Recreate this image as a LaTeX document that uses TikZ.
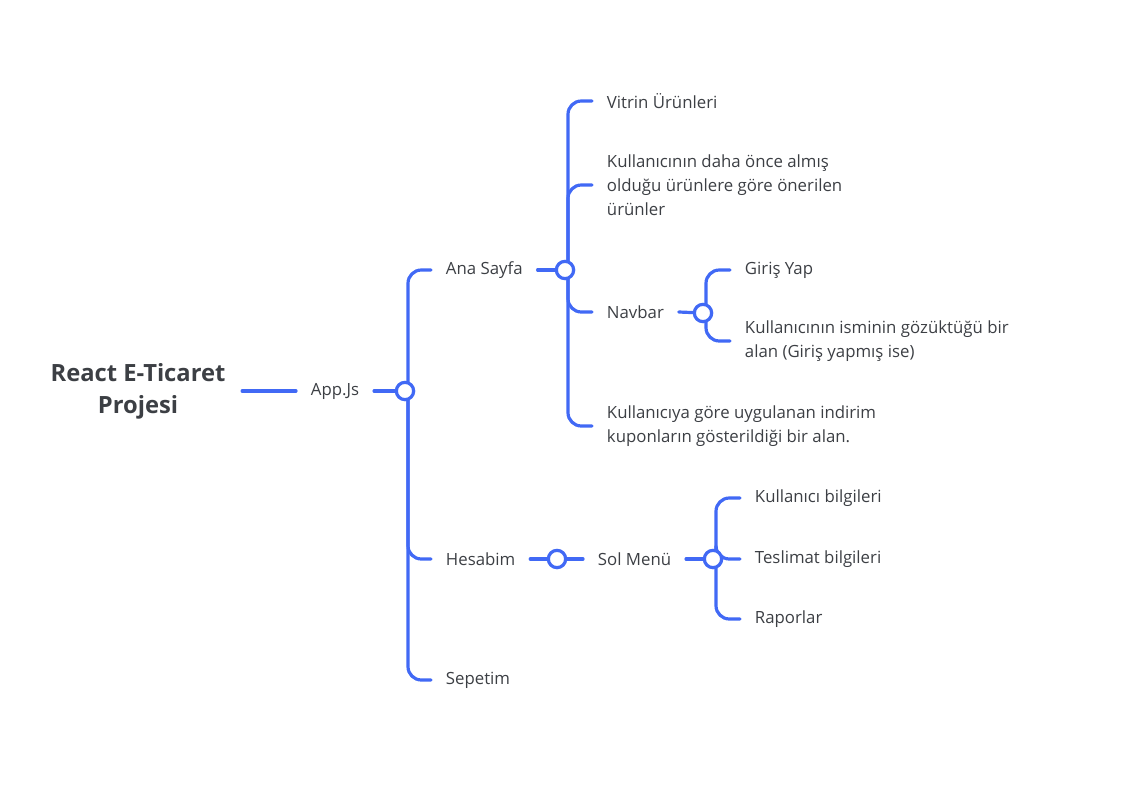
\documentclass[tikz,border=0pt]{standalone}
\usepackage{fontspec}
\setmainfont{Open Sans}
\definecolor{ln}{HTML}{4169F5}
\definecolor{tx}{HTML}{3C3F44}
\begin{document}
\begin{tikzpicture}[x=0.75pt,y=-0.75pt,
  lnk/.style={draw=ln,line width=2.4pt,rounded corners=10pt,line cap=round},
  txt/.style={anchor=west,inner xsep=11pt,inner ysep=0pt,text=tx,font=\fontsize{12.6}{18}\selectfont,align=left},
  dot/.style={circle,draw=ln,fill=white,line width=2.4pt,minimum size=13pt,inner sep=0pt}]
\useasboundingbox (0,0) rectangle (1122,810);
\node[text=tx,font=\bfseries\fontsize{17.8}{24}\selectfont,align=center] (root) at (138,391) {React E-Ticaret\\Projesi};
\node[txt] (app) at (296,391) {App.Js};
\coordinate (c1) at (405,391);
\node[txt] (ana) at (431,270) {Ana Sayfa};
\node[txt] (hes) at (431,559) {Hesabim};
\node[txt] (sep) at (431,680) {Sepetim};
\coordinate (c2) at (565,270);
\node[txt] (vit) at (592,101) {Vitrin Ürünleri};
\node[txt] (kul) at (592,185) {Kullanıcının daha önce almış\\olduğu ürünlere göre önerilen\\ürünler};
\node[txt] (nav) at (592,312) {Navbar};
\node[txt] (kup) at (592,426) {Kullanıcıya göre uygulanan indirim\\kuponların gösterildiği bir alan.};
\coordinate (c3) at (703,313);
\node[txt] (gir) at (730,270) {Giriş Yap};
\node[txt] (isim) at (730,341) {Kullanıcının isminin gözüktüğü bir\\alan (Giriş yapmış ise)};
\coordinate (c4) at (557,559);
\node[txt] (sol) at (583,559) {Sol Menü};
\coordinate (c5) at (713,559);
\node[txt] (kb) at (740,498) {Kullanıcı bilgileri};
\node[txt] (tb) at (740,559) {Teslimat bilgileri};
\node[txt] (rap) at (740,619) {Raporlar};
% connectors
\draw[lnk] (root.east) ++(12,0) -- (app.west);
\draw[lnk] (app.east) -- (c1);
\foreach \t in {ana,hes,sep} \draw[lnk] (c1) ++(3,0) |- (\t.west);
\draw[lnk] (ana.east) -- (c2);
\foreach \t in {vit,kul,nav,kup} \draw[lnk] (c2) ++(3,0) |- (\t.west);
\draw[lnk] (nav.east) -- (c3);
\foreach \t in {gir,isim} \draw[lnk] (c3) ++(3,0) |- (\t.west);
\draw[lnk] (hes.east) -- (c4) -- (sol.west);
\draw[lnk] (sol.east) -- (c5);
\foreach \t in {kb,tb,rap} \draw[lnk] (c5) ++(3,0) |- (\t.west);
\foreach \c in {c1,c2,c3,c4,c5} \node[dot] at (\c) {};
\end{tikzpicture}
\end{document}
